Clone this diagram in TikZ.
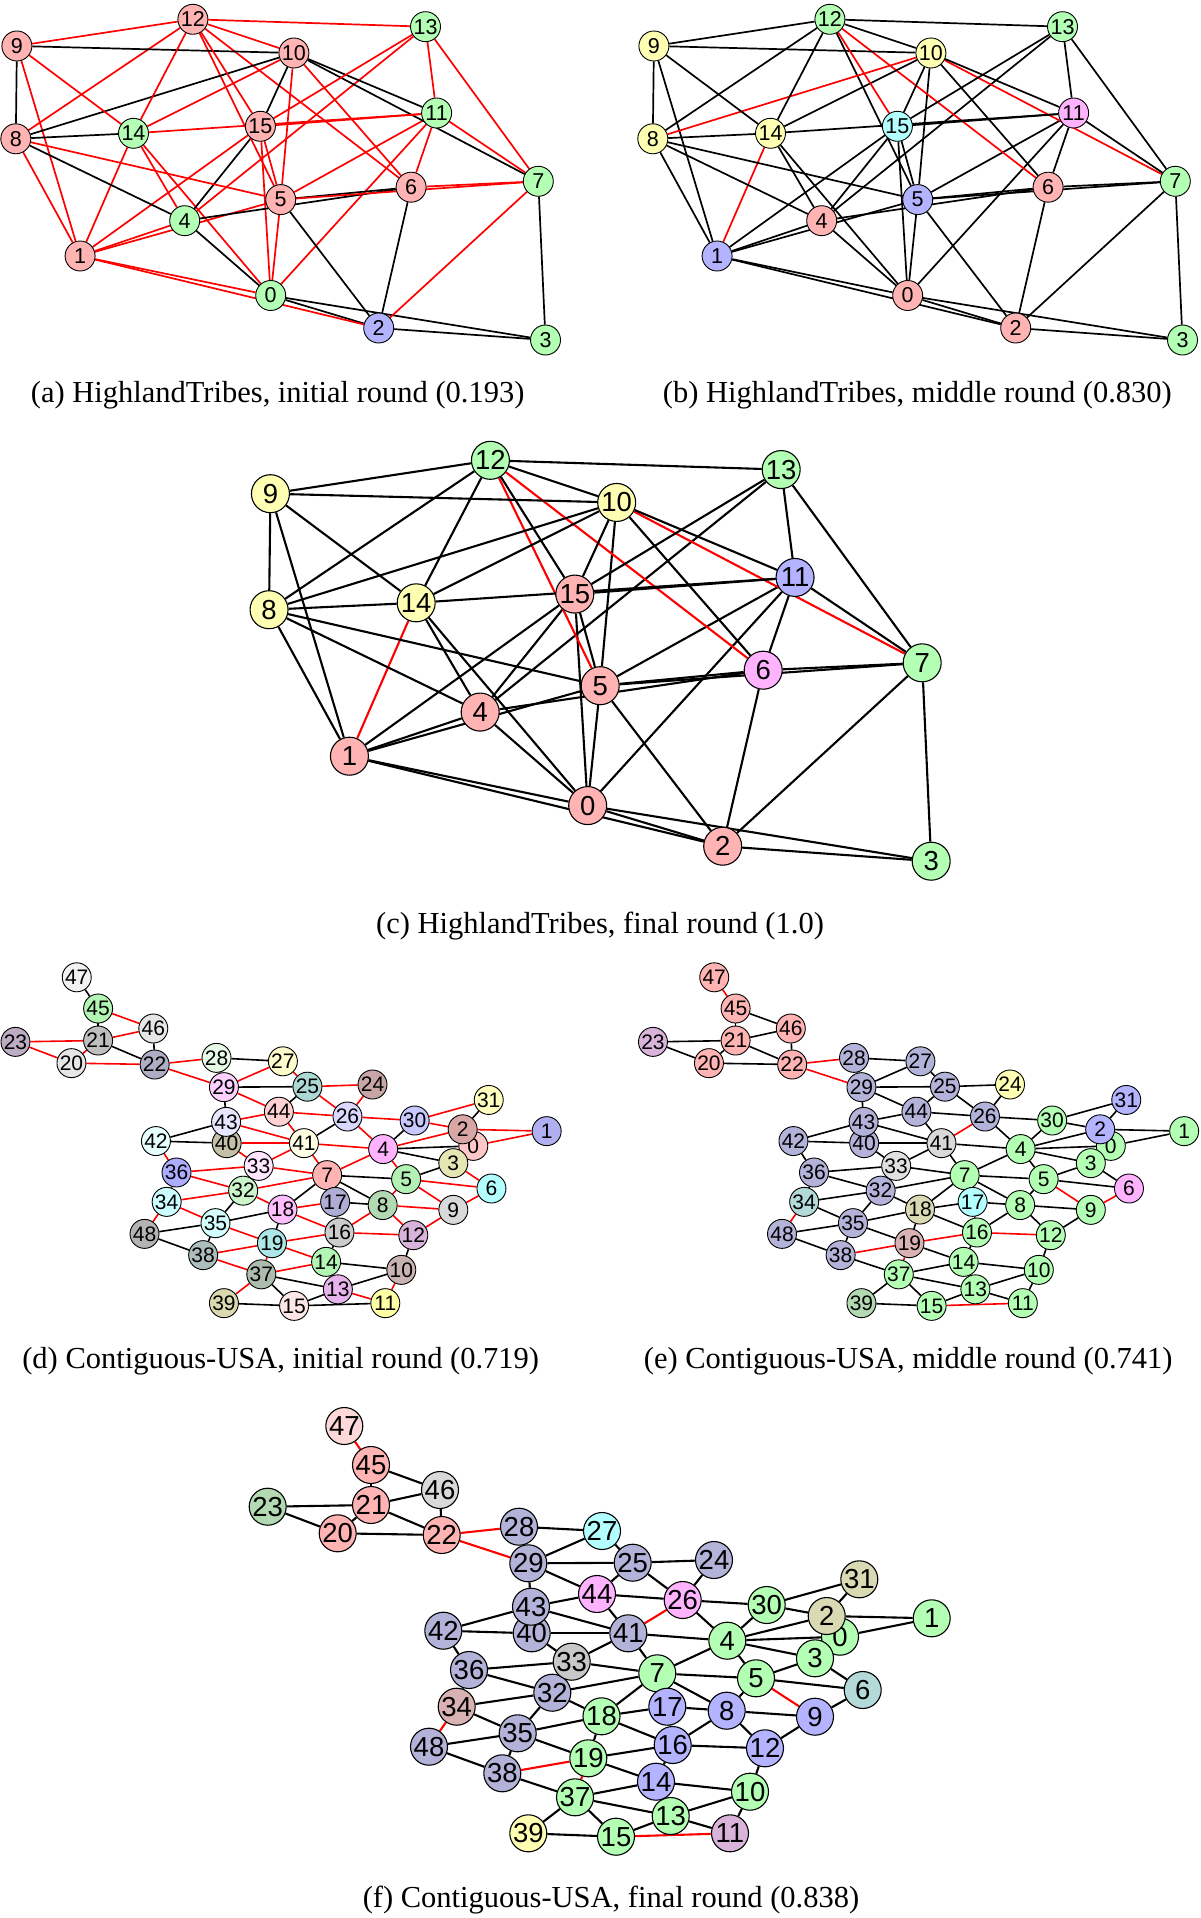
\documentclass[tikz,border=0pt]{standalone}
\usepackage{fontspec}
\setmainfont{Liberation Serif}
\setsansfont{Liberation Sans}
\pgfdeclarelayer{bg}
\pgfsetlayers{bg,main}
\tikzset{
  sn/.style={circle,draw=black,line width=0.9pt,minimum size=30pt,inner sep=0pt,font=\sffamily\fontsize{21.5}{21.5}\selectfont},
  dn/.style={sn,minimum size=29pt,font=\sffamily\fontsize{21}{21}\selectfont},
  ln/.style={circle,draw=black,line width=1.1pt,minimum size=38pt,inner sep=0pt,font=\sffamily\fontsize{27.5}{27.5}\selectfont},
  fn/.style={ln,minimum size=37pt},
  captext/.style={font=\fontsize{30.5}{32}\selectfont,inner sep=0pt},
}
\newcommand\defpos[2]{\foreach \i/\x/\y in {#2}{\expandafter\xdef\csname #1x\i\endcsname{\x}\expandafter\xdef\csname #1y\i\endcsname{\y}}}
\newcommand\placenodes[7]{%
  \foreach \i/\c in {#7}{%
    \edef\tmpdef{\noexpand\definecolor{tmpc}{HTML}{\c}}\tmpdef
    \edef\px{\csname #2x\i\endcsname}\edef\py{\csname #2y\i\endcsname}%
    \pgfmathsetmacro\nx{#3+#5*\px}%
    \pgfmathsetmacro\ny{#4+#5*\py}%
    \node[#6,fill=tmpc] (#1\i) at (\nx,\ny) {\i};}}
\newcommand\markex[2]{\foreach \u/\v in {#2}{\expandafter\gdef\csname ex:#1:\u:\v\endcsname{}\expandafter\gdef\csname ex:#1:\v:\u\endcsname{}}}
\newcommand\drawedges[5]{%
  \begin{pgfonlayer}{bg}%
  \foreach \u/\v in #5{%
    \ifcsname ex:#1:\u:\v\endcsname\def\ec{#3}\else\def\ec{#2}\fi
    \draw[line width=#4,draw=\ec] (#1\u) -- (#1\v);}%
  \end{pgfonlayer}}
\def\htedges{0/1,0/2,0/3,0/4,0/5,0/11,0/14,0/15,1/2,1/4,1/5,1/8,1/9,1/14,1/15,2/3,2/5,2/6,2/7,3/7,4/6,4/8,4/13,4/14,4/15,5/6,5/7,5/8,5/10,5/11,5/12,5/15,6/7,6/10,6/11,6/12,7/10,7/11,7/13,8/9,8/10,8/12,8/14,9/10,9/12,9/14,10/11,10/12,10/14,10/15,11/13,11/14,11/15,12/13,12/14,12/15,13/15}
\def\usedges{0/1,0/2,0/3,0/4,1/2,2/30,2/31,2/4,3/4,3/5,3/6,4/41,4/26,4/30,4/5,4/7,5/7,5/6,5/9,5/8,6/9,7/32,7/33,7/41,7/8,7/17,7/18,8/17,8/9,8/12,8/16,9/12,10/11,10/13,10/14,10/12,11/15,11/13,12/16,13/15,13/37,13/14,14/37,14/19,14/16,15/37,15/39,16/19,16/18,16/17,17/18,18/35,18/32,18/19,19/38,19/35,19/37,20/23,20/21,20/22,21/23,21/45,21/46,21/22,22/46,22/28,22/29,24/25,24/26,25/29,25/27,25/44,25/26,26/44,26/41,26/30,27/28,27/29,28/29,29/43,29/44,30/31,32/34,32/36,32/33,32/35,33/36,33/41,33/40,34/48,34/35,34/36,35/48,35/38,37/39,37/38,38/48,40/42,40/43,40/41,41/43,41/44,42/43,42/36,43/44,45/47,45/46}
\begin{document}
\begin{tikzpicture}[x=1pt,y=-1pt]
\useasboundingbox (0,0) rectangle (1200,1918);
\begin{pgfonlayer}{bg}\fill[white] (0,0) rectangle (1200,1918);\end{pgfonlayer}
\defpos{ht}{0/270.7/295.5,1/80.1/256,2/378.7/328,3/545.5/340,4/184.7/220.7,5/280.7/199.6,6/411.1/187.2,7/538.3/181.3,8/15.8/138.8,9/16.9/46,10/293.9/53,11/436.6/113,12/192.9/19.3,13/425.5/26.7,14/133.5/133.3,15/260.4/126.3}
\defpos{us}{0/840/1636.7,1/931.7/1618.3,2/826.7/1616,3/815/1658.3,4/727.3/1640.7,5/756/1678.3,6/862.7/1690,7/657.3/1673.3,8/726.7/1710.7,9/815/1716.7,10/750/1791.7,11/730/1833.3,12/765/1748.3,13/670.7/1816,14/656/1781.7,15/616/1836.7,16/672.7/1745,17/667.3/1706.7,18/601.5/1716.3,19/588.3/1758.3,20/337.7/1533.3,21/371/1505,22/441.7/1535,23/267.7/1506.7,24/714/1560,25/632.7/1562.7,26/682.7/1600,27/602/1531,28/519/1526.7,29/528.3/1563.3,30/766.7/1605,31/859.3/1579.3,32/552.3/1692.7,33/571.7/1661.7,34/456.7/1706.7,35/517.7/1733.3,36/469/1670,37/575/1797.3,38/502.3/1773.3,39/528.3/1833.3,40/531.7/1633.3,41/628.3/1633.3,42/443.3/1630.7,43/531/1606.7,44/597/1594,45/371/1465,46/440/1490,47/344.3/1426,48/429/1746.7}
% ---------- (a)
\placenodes{a}{ht}{0}{0}{1}{sn}{0/B3FFB3,1/FFB3B3,2/B3B3FF,3/B3FFB3,4/B3FFB3,5/FFB3B3,6/FFB3B3,7/B3FFB3,8/FFB3B3,9/FFB3B3,10/FFB3B3,11/B3FFB3,12/FFB3B3,13/B3FFB3,14/B3FFB3,15/FFB3B3}
\markex{a}{9/10,8/9,8/10,8/14,4/8,10/15,10/11,7/10,4/15,0/4,2/5,2/6,3/7,0/2,0/3,2/3,4/6,5/6}
\drawedges{a}{red}{black}{1.7pt}{\htedges}
% ---------- (b)
\placenodes{b}{ht}{637}{0}{1}{sn}{0/FFB3B3,1/B3B3FF,2/FFB3B3,3/B3FFB3,4/FFB3B3,5/B3B3FF,6/FFB3B3,7/B3FFB3,8/FFFFB3,9/FFFFB3,10/FFFFB3,11/FFB3FF,12/B3FFB3,13/B3FFB3,14/FFFFB3,15/B3FFFF}
\markex{b}{8/10,1/14,12/15,6/12,7/10}
\drawedges{b}{black}{red}{1.7pt}{\htedges}
% ---------- (c)
\placenodes{c}{ht}{249.3}{436.2}{1.25}{ln}{0/FFB3B3,1/FFB3B3,2/FFB3B3,3/B3FFB3,4/FFB3B3,5/FFB3B3,6/FFB3FF,7/B3FFB3,8/FFFFB3,9/FFFFB3,10/FFFFB3,11/B3B3FF,12/B3FFB3,13/B3FFB3,14/FFFFB3,15/FFB3B3}
\markex{c}{5/12,6/12,7/10,1/14}
\drawedges{c}{black}{red}{2.1pt}{\htedges}
% ---------- (d)
\placenodes{d}{us}{-198.7}{-163.5}{0.8}{dn}{0/FFC8C8,1/B0B0F0,2/D9A6A6,3/E6E6B3,4/FFB3FF,5/B3F0B3,6/B3FFFF,7/FFB3B3,8/B3D9B3,9/D9D9D9,10/C8B3B3,11/FFFFA6,12/D9B3D9,13/E6B3EB,14/B3F5B3,15/FFE6E6,16/CCCCCC,17/ADADD6,18/FFBFFF,19/ADE6E6,20/E6E6E6,21/BFBFBF,22/ADADC4,23/BDADC4,24/C8A6A6,25/ADD9D4,26/D9D9FF,27/FFFCCC,28/E6FAE6,29/FFD1FF,30/C8C8FF,31/FFFFBF,32/CCF5CC,33/FFE6FF,34/CCFFFF,35/D4FFFF,36/ADADFF,37/ADBDAD,38/ADBDBD,39/D9D9AD,40/C4C0A6,41/FFFFE6,42/E6FFFF,43/E6E6FF,44/FFD1D1,45/B3F5B3,46/E6E6E6,47/F2F2F2,48/B3B3B3}
\markex{d}{0/1,1/2,2/30,2/4,3/6,4/41,4/26,4/5,4/7,5/6,5/9,5/8,6/9,7/32,7/33,7/41,8/9,8/12,8/16,9/12,10/11,11/13,12/16,14/37,14/19,16/19,16/18,17/18,18/32,19/38,19/35,19/37,20/23,20/21,20/22,21/23,21/46,22/28,22/29,24/25,24/26,25/27,25/26,26/44,26/30,27/29,29/44,30/31,32/34,32/36,33/36,33/41,33/40,34/48,34/35,37/39,37/38,40/41,41/43,41/44,42/36,43/44,45/46}
\drawedges{d}{black}{red}{1.6pt}{\usedges}
% ---------- (e)
\placenodes{e}{us}{438.8}{-163.5}{0.8}{dn}{0/B3FFB3,1/B3FFB3,2/B3B3FF,3/B3FFB3,4/B3FFB3,5/B3FFB3,6/FFB3FF,7/B3FFB3,8/B3FFB3,9/B3FFB3,10/B3FFB3,11/B3FFB3,12/B3FFB3,13/B3FFB3,14/B3FFB3,15/B3FFB3,16/B3FFB3,17/B3FFFF,18/D9D9B3,19/D9B3B3,20/FFB3B3,21/FFB3B3,22/FFB3B3,23/D9B3D9,24/FFFFB3,25/B3B3D9,26/B3B3D9,27/B3B3D9,28/B3B3D9,29/B3B3D9,30/B3FFB3,31/B3B3FF,32/B3B3D9,33/E0E0E0,34/B3D9D9,35/B3B3D9,36/B3B3D9,37/B3FFB3,38/B3B3D9,39/B3D9B3,40/B3B3D9,41/D9D9D9,42/B3B3D9,43/B3B3D9,44/B3B3D9,45/FFB3B3,46/FFB3B3,47/FFB3B3,48/B3B3D9}
\markex{e}{45/47,22/28,22/29,34/48,19/38,19/37,26/41,5/9,6/9,16/19,12/16,11/15}
\drawedges{e}{black}{red}{1.6pt}{\usedges}
% ---------- (f)
\placenodes{f}{us}{0}{0}{1}{fn}{0/B3FFB3,1/B3FFB3,2/D9D9B3,3/B3FFB3,4/B3FFB3,5/B3FFB3,6/B3D9D9,7/B3FFB3,8/B3B3FF,9/B3B3FF,10/B3FFB3,11/D9B3D9,12/B3B3FF,13/B3FFB3,14/B3B3FF,15/B3FFB3,16/B3B3FF,17/B3B3FF,18/B3FFB3,19/B3FFB3,20/FFB3B3,21/FFB3B3,22/FFB3B3,23/B3D9B3,24/B3B3D9,25/B3B3D9,26/FFB3FF,27/B3FFFF,28/B3B3D9,29/B3B3D9,30/B3FFB3,31/D9D9B3,32/B3B3D9,33/C8C8C8,34/D9B3B3,35/B3B3D9,36/B3B3D9,37/B3FFB3,38/B3B3D9,39/FFFFB3,40/B3B3D9,41/B3B3D9,42/B3B3D9,43/B3B3D9,44/FFB3FF,45/FFB3B3,46/D9D9D9,47/FFD9D9,48/B3B3D9}
\markex{f}{45/47,22/28,22/29,34/48,19/38,19/37,26/41,5/9,11/15}
\drawedges{f}{black}{red}{2.1pt}{\usedges}
% ---------- captions
\node[captext] (capa) at (277.7,395) {(a) HighlandTribes, initial round (0.193)};
\node[captext] (capb) at (917.4,395) {(b) HighlandTribes, middle round (0.830)};
\node[captext] (capc) at (600,926) {(c) HighlandTribes, final round (1.0)};
\node[captext] (capd) at (280.7,1361.5) {(d) Contiguous-USA, initial round (0.719)};
\node[captext] (cape) at (908.2,1361.5) {(e) Contiguous-USA, middle round (0.741)};
\node[captext] (capf) at (611,1899.6) {(f) Contiguous-USA, final round (0.838)};
\end{tikzpicture}
\end{document}
